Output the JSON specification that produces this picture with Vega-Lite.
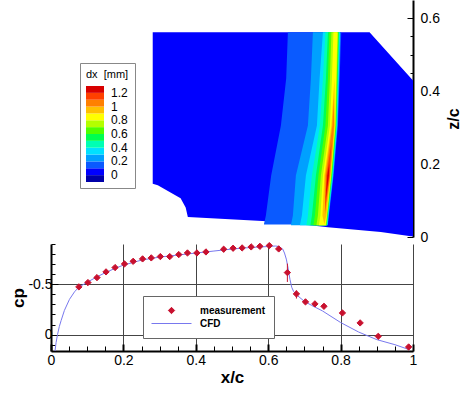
{
  "$schema": "https://vega.github.io/schema/vega-lite/v6.json",
  "padding": {"left": 9, "top": 0, "right": 0, "bottom": 0},
  "config": {
    "font": "Liberation Sans",
    "view": {"stroke": null},
    "legend": {"labelFont": "Liberation Sans", "titleFont": "Liberation Sans"}
  },
  "bounds": "flush",
  "spacing": 7,
  "resolve": {
    "scale": {"color": "independent", "stroke": "independent", "shape": "independent", "size": "independent"},
    "legend": {"color": "independent", "stroke": "independent", "shape": "independent", "size": "independent"}
  },
  "datasets": {
    "contour": [
      {"level": 0, "part": "p00", "z": 0.002, "xl": 0.994, "xr": 1.0},
      {"level": 0, "part": "p00", "z": 0.0137, "xl": 0.911, "xr": 1.0},
      {"level": 0, "part": "p00", "z": 0.027, "xl": 0.765, "xr": 1.0},
      {"level": 0, "part": "p00", "z": 0.041, "xl": 0.635, "xr": 1.0},
      {"level": 0, "part": "p00", "z": 0.055, "xl": 0.378, "xr": 1.0},
      {"level": 0, "part": "p00", "z": 0.081, "xl": 0.372, "xr": 1.0},
      {"level": 0, "part": "p00", "z": 0.106, "xl": 0.358, "xr": 1.0},
      {"level": 0, "part": "p00", "z": 0.142, "xl": 0.295, "xr": 1.0},
      {"level": 0, "part": "p00", "z": 0.146, "xl": 0.281, "xr": 1.0},
      {"level": 0, "part": "p00", "z": 0.429, "xl": 0.281, "xr": 1.0},
      {"level": 0, "part": "p00", "z": 0.5616, "xl": 0.281, "xr": 0.88},

      {"level": 0.1, "part": "p01", "z": 0.034, "xl": 0.5881, "xr": 0.765},
      {"level": 0.1, "part": "p01", "z": 0.059, "xl": 0.5936, "xr": 0.7678},
      {"level": 0.1, "part": "p01", "z": 0.169, "xl": 0.6082, "xr": 0.7808},
      {"level": 0.1, "part": "p01", "z": 0.306, "xl": 0.6351, "xr": 0.7926},
      {"level": 0.1, "part": "p01", "z": 0.435, "xl": 0.6497, "xr": 0.7973},
      {"level": 0.1, "part": "p01", "z": 0.5616, "xl": 0.6544, "xr": 0.8018},

      {"level": 0.2, "part": "p02", "z": 0.032, "xl": 0.6627, "xr": 0.7642},
      {"level": 0.2, "part": "p02", "z": 0.059, "xl": 0.6682, "xr": 0.7669},
      {"level": 0.2, "part": "p02", "z": 0.169, "xl": 0.6765, "xr": 0.7796},
      {"level": 0.2, "part": "p02", "z": 0.306, "xl": 0.7097, "xr": 0.7915},
      {"level": 0.2, "part": "p02", "z": 0.435, "xl": 0.718, "xr": 0.796},
      {"level": 0.2, "part": "p02", "z": 0.5616, "xl": 0.7235, "xr": 0.7995},

      {"level": 0.3, "part": "p03", "z": 0.032, "xl": 0.6876, "xr": 0.7633},
      {"level": 0.3, "part": "p03", "z": 0.059, "xl": 0.6931, "xr": 0.7661},
      {"level": 0.3, "part": "p03", "z": 0.169, "xl": 0.7042, "xr": 0.7788},
      {"level": 0.3, "part": "p03", "z": 0.306, "xl": 0.7346, "xr": 0.7904},
      {"level": 0.3, "part": "p03", "z": 0.435, "xl": 0.742, "xr": 0.7946},
      {"level": 0.3, "part": "p03", "z": 0.5616, "xl": 0.7512, "xr": 0.7982},

      {"level": 0.4, "part": "p04", "z": 0.032, "xl": 0.7056, "xr": 0.7625},
      {"level": 0.4, "part": "p04", "z": 0.059, "xl": 0.7097, "xr": 0.7653},
      {"level": 0.4, "part": "p04", "z": 0.169, "xl": 0.7208, "xr": 0.7777},
      {"level": 0.4, "part": "p04", "z": 0.306, "xl": 0.7429, "xr": 0.7893},
      {"level": 0.4, "part": "p04", "z": 0.435, "xl": 0.7512, "xr": 0.7935},
      {"level": 0.4, "part": "p04", "z": 0.5616, "xl": 0.7581, "xr": 0.7968},

      {"level": 0.5, "part": "p05", "z": 0.032, "xl": 0.7166, "xr": 0.7617},
      {"level": 0.5, "part": "p05", "z": 0.059, "xl": 0.7208, "xr": 0.7644},
      {"level": 0.5, "part": "p05", "z": 0.169, "xl": 0.7318, "xr": 0.7766},
      {"level": 0.5, "part": "p05", "z": 0.306, "xl": 0.7512, "xr": 0.7882},
      {"level": 0.5, "part": "p05", "z": 0.435, "xl": 0.7595, "xr": 0.7921},
      {"level": 0.5, "part": "p05", "z": 0.5616, "xl": 0.765, "xr": 0.7954},

      {"level": 0.6, "part": "p06", "z": 0.032, "xl": 0.7249, "xr": 0.7608},
      {"level": 0.6, "part": "p06", "z": 0.059, "xl": 0.7291, "xr": 0.7636},
      {"level": 0.6, "part": "p06", "z": 0.169, "xl": 0.7387, "xr": 0.7755},
      {"level": 0.6, "part": "p06", "z": 0.306, "xl": 0.7581, "xr": 0.7871},
      {"level": 0.6, "part": "p06", "z": 0.435, "xl": 0.765, "xr": 0.7907},
      {"level": 0.6, "part": "p06", "z": 0.5616, "xl": 0.7691, "xr": 0.794},

      {"level": 0.7, "part": "p07", "z": 0.032, "xl": 0.7332, "xr": 0.76},
      {"level": 0.7, "part": "p07", "z": 0.059, "xl": 0.7373, "xr": 0.7628},
      {"level": 0.7, "part": "p07", "z": 0.169, "xl": 0.7456, "xr": 0.7744},
      {"level": 0.7, "part": "p07", "z": 0.306, "xl": 0.765, "xr": 0.786},
      {"level": 0.7, "part": "p07", "z": 0.435, "xl": 0.7705, "xr": 0.7893},
      {"level": 0.7, "part": "p07", "z": 0.5616, "xl": 0.7747, "xr": 0.7926},

      {"level": 0.8, "part": "p08", "z": 0.032, "xl": 0.7401, "xr": 0.7589},
      {"level": 0.8, "part": "p08", "z": 0.059, "xl": 0.7442, "xr": 0.7617},
      {"level": 0.8, "part": "p08", "z": 0.169, "xl": 0.7512, "xr": 0.7733},
      {"level": 0.8, "part": "p08", "z": 0.306, "xl": 0.7705, "xr": 0.7849},
      {"level": 0.8, "part": "p08", "z": 0.435, "xl": 0.7761, "xr": 0.7879},
      {"level": 0.8, "part": "p08", "z": 0.5616, "xl": 0.7802, "xr": 0.7913},

      {"level": 0.9, "part": "p09", "z": 0.035, "xl": 0.755, "xr": 0.755},
      {"level": 0.9, "part": "p09", "z": 0.059, "xl": 0.7498, "xr": 0.7606},
      {"level": 0.9, "part": "p09", "z": 0.169, "xl": 0.7553, "xr": 0.7722},
      {"level": 0.9, "part": "p09", "z": 0.306, "xl": 0.7747, "xr": 0.7838},
      {"level": 0.9, "part": "p09", "z": 0.435, "xl": 0.783, "xr": 0.783},

      {"level": 1.0, "part": "p10", "z": 0.059, "xl": 0.7567, "xr": 0.7567},
      {"level": 1.0, "part": "p10", "z": 0.169, "xl": 0.7581, "xr": 0.7711},
      {"level": 1.0, "part": "p10", "z": 0.306, "xl": 0.7774, "xr": 0.7821},
      {"level": 1.0, "part": "p10", "z": 0.38, "xl": 0.781, "xr": 0.781},

      {"level": 1.1, "part": "p11", "z": 0.07, "xl": 0.7565, "xr": 0.7565},
      {"level": 1.1, "part": "p11", "z": 0.169, "xl": 0.7608, "xr": 0.7694},
      {"level": 1.1, "part": "p11", "z": 0.26, "xl": 0.775, "xr": 0.775},

      {"level": 1.2, "part": "p12", "z": 0.1, "xl": 0.7585, "xr": 0.7585},
      {"level": 1.2, "part": "p12", "z": 0.169, "xl": 0.7631, "xr": 0.7678},
      {"level": 1.2, "part": "p12", "z": 0.2, "xl": 0.7685, "xr": 0.7685}
    ],
    "meas": [
      {"x": 0.077, "cp": -0.474}, {"x": 0.102, "cp": -0.517}, {"x": 0.127, "cp": -0.566},
      {"x": 0.152, "cp": -0.623}, {"x": 0.177, "cp": -0.666}, {"x": 0.203, "cp": -0.702},
      {"x": 0.227, "cp": -0.728}, {"x": 0.253, "cp": -0.752}, {"x": 0.277, "cp": -0.762},
      {"x": 0.302, "cp": -0.775}, {"x": 0.328, "cp": -0.775}, {"x": 0.353, "cp": -0.795},
      {"x": 0.377, "cp": -0.811}, {"x": 0.403, "cp": -0.811}, {"x": 0.428, "cp": -0.821},
      {"x": 0.477, "cp": -0.848}, {"x": 0.503, "cp": -0.858}, {"x": 0.528, "cp": -0.861},
      {"x": 0.553, "cp": -0.871}, {"x": 0.577, "cp": -0.877}, {"x": 0.603, "cp": -0.884},
      {"x": 0.629, "cp": -0.851},
      {"x": 0.653, "cp": -0.616, "lo": -0.705, "hi": -0.523},
      {"x": 0.678, "cp": -0.404, "lo": -0.44, "hi": -0.358},
      {"x": 0.703, "cp": -0.325}, {"x": 0.729, "cp": -0.305}, {"x": 0.754, "cp": -0.281},
      {"x": 0.805, "cp": -0.215}, {"x": 0.854, "cp": -0.116}, {"x": 0.904, "cp": 0.017},
      {"x": 0.988, "cp": 0.123}
    ],
    "cfd": [
      {"x": 0.0105, "cp": 0.18}, {"x": 0.014, "cp": 0.08}, {"x": 0.018, "cp": 0.0},
      {"x": 0.023, "cp": -0.08}, {"x": 0.028, "cp": -0.14}, {"x": 0.037, "cp": -0.24},
      {"x": 0.051, "cp": -0.35}, {"x": 0.065, "cp": -0.425}, {"x": 0.0765, "cp": -0.47},
      {"x": 0.1, "cp": -0.52}, {"x": 0.125, "cp": -0.57}, {"x": 0.15, "cp": -0.615},
      {"x": 0.175, "cp": -0.655}, {"x": 0.2, "cp": -0.69}, {"x": 0.25, "cp": -0.74},
      {"x": 0.3, "cp": -0.77}, {"x": 0.35, "cp": -0.79}, {"x": 0.4, "cp": -0.81},
      {"x": 0.45, "cp": -0.83}, {"x": 0.5, "cp": -0.85}, {"x": 0.55, "cp": -0.865},
      {"x": 0.6, "cp": -0.875}, {"x": 0.62, "cp": -0.88}, {"x": 0.63, "cp": -0.875},
      {"x": 0.64, "cp": -0.85}, {"x": 0.645, "cp": -0.81}, {"x": 0.65, "cp": -0.75},
      {"x": 0.655, "cp": -0.66}, {"x": 0.66, "cp": -0.55}, {"x": 0.665, "cp": -0.47},
      {"x": 0.67, "cp": -0.43}, {"x": 0.68, "cp": -0.39}, {"x": 0.7, "cp": -0.33},
      {"x": 0.72, "cp": -0.29}, {"x": 0.75, "cp": -0.235}, {"x": 0.8, "cp": -0.12},
      {"x": 0.85, "cp": -0.025}, {"x": 0.9, "cp": 0.05}, {"x": 0.95, "cp": 0.1},
      {"x": 0.99, "cp": 0.15}
    ]
  },
  "vconcat": [
    {
      "width": 362,
      "height": 237,
      "data": {"name": "contour"},
      "mark": {"type": "area", "orient": "horizontal", "opacity": 1},
      "encoding": {
        "y": {
          "field": "z", "type": "quantitative",
          "scale": {"domain": [0, 0.65], "nice": false, "zero": false},
          "axis": {
            "orient": "right",
            "title": "z/c", "titleFontSize": 16, "titleFontWeight": "bold", "titleColor": "black",
            "titleAngle": 270, "titlePadding": 22,
            "values": [0, 0.05, 0.1, 0.15, 0.2, 0.25, 0.3, 0.35, 0.4, 0.45, 0.5, 0.55, 0.6],
            "labelExpr": "abs(datum.value*5 - round(datum.value*5)) < 1e-6 ? format(datum.value, '~g') : ''",
            "labelFontSize": 14, "labelColor": "black", "labelFlush": false, "labelOverlap": false,
            "labelPadding": 13,
            "tickSize": {"condition": {"test": "abs(datum.value*5 - round(datum.value*5)) < 1e-6", "value": -6}, "value": -3},
            "tickColor": "black", "tickWidth": 1,
            "domainColor": "black", "domainWidth": 2, "grid": false
          }
        },
        "x": {
          "field": "xl", "type": "quantitative", "stack": null,
          "scale": {"domain": [0, 1], "nice": false, "zero": false},
          "axis": null
        },
        "x2": {"field": "xr"},
        "detail": {"field": "part"},
        "color": {
          "field": "level", "type": "quantitative",
          "scale": {
            "type": "threshold",
            "domain": [0, 0.1, 0.2, 0.3, 0.4, 0.5, 0.6, 0.7, 0.8, 0.9, 1.0, 1.1, 1.2],
            "range": ["#0000a8", "#0000ff", "#0a5aff", "#00a0ff", "#00e0ff", "#00ffb4", "#00ff50", "#50ff00", "#b4ff00", "#ffff00", "#ffc000", "#ff8000", "#ff4000", "#d80000"]
          },
          "legend": {
            "type": "gradient", "orient": "none", "legendX": 29, "legendY": 63,
            "direction": "vertical",
            "title": "dx\u00a0\u00a0[mm]", "titleFontSize": 11, "titleFontWeight": "normal", "titleColor": "black",
            "titlePadding": 6,
            "gradientLength": 96, "gradientThickness": 18, "gradientStrokeWidth": 0,
            "labelFontSize": 12, "labelColor": "black", "labelOffset": 7, "labelOverlap": false,
            "labelExpr": "abs(datum.value*5 - round(datum.value*5)) < 1e-6 ? format(datum.value, '~g') : ''",
            "strokeColor": "#888888", "fillColor": "white", "padding": 6
          }
        }
      }
    },
    {
      "width": 362,
      "height": 107,
      "encoding": {
        "x": {
          "field": "x", "type": "quantitative",
          "scale": {"domain": [0, 1], "nice": false, "zero": false},
          "axis": {
            "title": "x/c", "titleFontSize": 17, "titleFontWeight": "bold", "titleColor": "black", "titlePadding": 0,
            "values": [0, 0.05, 0.1, 0.15, 0.2, 0.25, 0.3, 0.35, 0.4, 0.45, 0.5, 0.55, 0.6, 0.65, 0.7, 0.75, 0.8, 0.85, 0.9, 0.95, 1],
            "labelExpr": "abs(datum.value*5 - round(datum.value*5)) < 1e-6 ? format(datum.value, '~g') : ''",
            "labelFontSize": 14, "labelColor": "black", "labelFlush": false, "labelOverlap": false,
            "labelPadding": 9,
            "tickSize": {"condition": {"test": "abs(datum.value*5 - round(datum.value*5)) < 1e-6", "value": -7}, "value": -5},
            "tickWidth": {"condition": {"test": "abs(datum.value*5 - round(datum.value*5)) < 1e-6", "value": 2}, "value": 1},
            "tickColor": "black",
            "domainColor": "black", "domainWidth": 2,
            "grid": true, "gridColor": "#444444", "gridWidth": 1,
            "gridOpacity": {"condition": {"test": "abs(datum.value*5 - round(datum.value*5)) < 1e-6 && datum.value > 0", "value": 1}, "value": 0}
          }
        },
        "y": {
          "field": "cp", "type": "quantitative",
          "scale": {"domain": [-0.9, 0.163], "nice": false, "zero": false, "reverse": true},
          "axis": {
            "title": "cp", "titleFontSize": 17, "titleFontWeight": "bold", "titleColor": "black", "titlePadding": 0,
            "values": [-0.9, -0.8, -0.7, -0.6, -0.5, -0.4, -0.3, -0.2, -0.1, 0, 0.1],
            "labelExpr": "datum.value === -0.5 ? '-0.5' : (datum.value === 0 ? '0' : '')",
            "labelFontSize": 14, "labelColor": "black", "labelFlush": false, "labelOverlap": false,
            "labelPadding": 6,
            "tickSize": {"condition": {"test": "datum.value === -0.5 || datum.value === 0", "value": -7}, "value": -4},
            "tickColor": "black",
            "domainColor": "black", "domainWidth": 2,
            "grid": true, "gridColor": "#444444", "gridWidth": 1,
            "gridOpacity": {"condition": {"test": "datum.value === -0.5 || datum.value === 0", "value": 1}, "value": 0}
          }
        }
      },
      "layer": [
        {
          "data": {"name": "cfd"},
          "mark": {"type": "line", "strokeWidth": 1, "clip": true},
          "encoding": {
            "stroke": {
              "datum": "CFD", "type": "nominal",
              "scale": {"domain": ["measurement", "CFD"], "range": ["#c8102e", "#7878ee"]},
              "legend": {
                "orient": "none", "legendX": 92, "legendY": 52, "title": null,
                "strokeColor": "#666666", "fillColor": "white", "padding": 8,
                "labelFontSize": 10, "labelFontWeight": "bold", "labelColor": "black",
                "clipHeight": 13, "labelOffset": 8, "rowPadding": 0, "symbolOffset": 0,
                "symbolStrokeWidth": 1
              }
            }
          }
        },
        {
          "data": {"name": "meas"},
          "transform": [{"filter": "isValid(datum.lo)"}],
          "mark": {"type": "rule", "strokeWidth": 1, "color": "#c8102e"},
          "encoding": {
            "y": {"field": "lo", "type": "quantitative"},
            "y2": {"field": "hi"}
          }
        },
        {
          "data": {"name": "meas"},
          "mark": {"type": "point", "filled": true, "fill": "#c8102e", "strokeWidth": 1, "opacity": 1},
          "encoding": {
            "stroke": {
              "datum": "measurement", "type": "nominal",
              "legend": {
                "orient": "none", "legendX": 92, "legendY": 52, "title": null,
                "strokeColor": "#666666", "fillColor": "white", "padding": 8,
                "labelFontSize": 10, "labelFontWeight": "bold", "labelColor": "black",
                "clipHeight": 13, "labelOffset": 8, "rowPadding": 0, "symbolOffset": 0,
                "symbolStrokeWidth": 1
              }
            },
            "shape": {
              "datum": "measurement", "type": "nominal",
              "scale": {"domain": ["measurement", "CFD"], "range": ["diamond", "stroke"]},
              "legend": {
                "orient": "none", "legendX": 92, "legendY": 52, "title": null,
                "strokeColor": "#666666", "fillColor": "white", "padding": 8,
                "labelFontSize": 10, "labelFontWeight": "bold", "labelColor": "black",
                "clipHeight": 13, "labelOffset": 8, "rowPadding": 0, "symbolOffset": 0,
                "symbolStrokeWidth": 1
              }
            },
            "size": {
              "datum": "measurement", "type": "nominal",
              "scale": {"type": "ordinal", "domain": ["measurement", "CFD"], "range": [40, 1600]},
              "legend": {
                "orient": "none", "legendX": 92, "legendY": 52, "title": null,
                "strokeColor": "#666666", "fillColor": "white", "padding": 8,
                "labelFontSize": 10, "labelFontWeight": "bold", "labelColor": "black",
                "clipHeight": 13, "labelOffset": 8, "rowPadding": 0, "symbolOffset": 0,
                "symbolStrokeWidth": 1
              }
            }
          }
        }
      ]
    }
  ]
}
